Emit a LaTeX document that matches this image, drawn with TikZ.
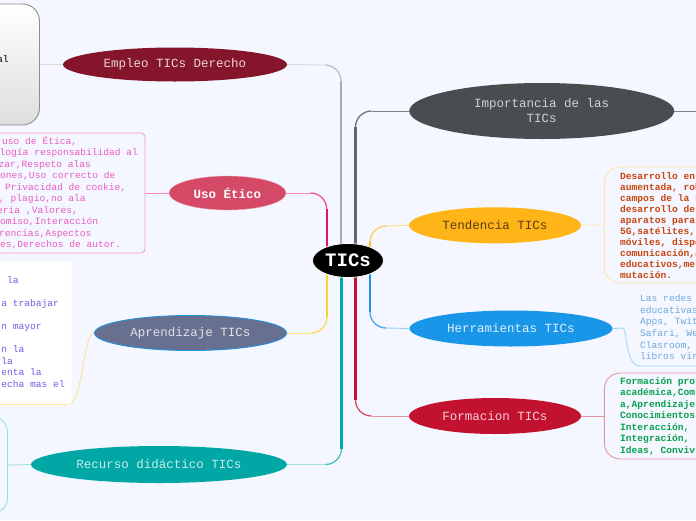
\documentclass[tikz,border=0pt]{standalone}
\usepackage{fontspec}
\setmainfont{Liberation Mono}
\usetikzlibrary{shapes.geometric,backgrounds}
\definecolor{bgc}{HTML}{F4F7FF}
\definecolor{cEmp}{HTML}{85152A}
\definecolor{cUso}{HTML}{D44A66}
\definecolor{cApr}{HTML}{67708F}
\definecolor{cRec}{HTML}{00A7A5}
\definecolor{cImp}{HTML}{4A4D4F}
\definecolor{cTen}{HTML}{FFB517}
\definecolor{cHer}{HTML}{1996E8}
\definecolor{cFor}{HTML}{C2122F}
\definecolor{tUso}{HTML}{EC5CC0}
\definecolor{tApr}{HTML}{6A60E0}
\definecolor{tTen}{HTML}{C8450F}
\definecolor{tHer}{HTML}{6FA8DC}
\definecolor{tFor}{HTML}{0AA050}
\definecolor{tTenL}{HTML}{5C3D12}
\definecolor{bUso}{HTML}{F59AC8}
\definecolor{bRec}{HTML}{9EDDE8}
\definecolor{bEmp}{HTML}{8D8D95}
\definecolor{gPale}{HTML}{D5DAD5}
\definecolor{gMid}{HTML}{BCC2BC}
\definecolor{gDark}{HTML}{A8AEA8}
\definecolor{pPale}{HTML}{F28CC0}
\definecolor{pMid}{HTML}{F0509A}
\definecolor{pDark}{HTML}{E8106A}
\definecolor{yPale}{HTML}{FFE48A}
\definecolor{yMid}{HTML}{FFDA55}
\definecolor{yDark}{HTML}{FFD22B}
\tikzset{
 topic/.style={ellipse,inner sep=0pt,font=\fontsize{12.5}{15}\selectfont,align=center},
 txt/.style={anchor=north west,inner sep=0pt,align=left,font=\fontsize{9.6}{11.5}\selectfont},
 stub/.style={line width=.9pt},
 trunk/.style={line width=2.4pt},
 bendline/.style={line width=1.3pt,rounded corners=16pt},
 panel/.style={rectangle,line width=.9pt,fill=bgc,inner sep=0pt},
}
% #1 name, #2 node, #3 pale, #4 mid, #5 dark, #6 corner x, #7 corner y, #8 sign x, #9 sign y; end y in \endy
\newcommand{\conn}[9]{%
 \coordinate (#1K) at (#6,#7);
 \coordinate (#1A) at ({#6-#8*16},#7);
 \coordinate (#1B) at (#6,{#7+#9*16});
 \coordinate (#1E) at (#6,\endy);
 \draw[stub,#3] (#2) -- (#1A);
 \draw[bendline,#4] (#1A) -- (#1K) -- (#1B);
 \draw[trunk,#5] (#1B) -- (#1E);
}
\begin{document}
\begin{tikzpicture}[x=1pt,y=-1pt]
\useasboundingbox (0,0) rectangle (696,520);
\clip (0,0) rectangle (696,520);
\begin{scope}[on background layer]
\clip (0,0) rectangle (696,520);
\fill[bgc] (0,0) rectangle (696,520);
\end{scope}
% central
\node[ellipse,fill=black,draw=white,line width=.8pt,text=white,minimum width=71pt,minimum height=34pt,inner sep=0pt,font=\fontsize{19}{22}\selectfont\bfseries] (tic) at (348,260.5) {TICs};
% main topics
\node[topic,fill=cEmp,text=white!82!cEmp,minimum width=224pt,minimum height=34pt] (emp) at (175,64.5) {Empleo TICs Derecho};
\node[topic,fill=cUso,draw=white!50!cUso,line width=.4pt,text=white,minimum width=117pt,minimum height=34pt,font=\fontsize{12.5}{15}\selectfont\bfseries] (uso) at (227.5,193) {Uso Ético};
\node[topic,fill=cApr,draw=cHer!85!cApr,line width=.9pt,text=white!80!cApr,minimum width=192pt,minimum height=35pt] (apr) at (190.5,333) {Aprendizaje TICs};
\node[topic,fill=cRec,text=white!78!cRec,minimum width=256pt,minimum height=37pt] (rec) at (159,464.5) {Recurso didáctico TICs};
\node[topic,fill=cImp,text=white!75!cImp,minimum width=265pt,minimum height=56pt] (imp) at (541.7,111) {Importancia de las\\TICs};
\node[topic,fill=cTen,text=tTenL,minimum width=172pt,minimum height=36pt] (ten) at (495,225.3) {Tendencia TICs};
\node[topic,fill=cHer,text=white!85!cHer,minimum width=203pt,minimum height=36pt] (her) at (511,328.5) {Herramientas TICs};
\node[topic,fill=cFor,text=white!80!cFor,minimum width=172pt,minimum height=36pt] (for) at (495,416) {Formacion TICs};
% detail panels
\node[panel,draw=bEmp,top color=white,bottom color=black!13,rounded corners=17pt,minimum width=110pt,minimum height=121pt] (pemp) at (-15.5,64.5) {};
\node[panel,draw=bUso,rounded corners=4pt,minimum width=175pt,minimum height=120pt] (puso) at (57.5,193) {};
\node[rectangle,fill=white,rounded corners=3pt,inner sep=0pt,minimum width=82pt,minimum height=143pt] (papr) at (30.7,332.5) {};
\node[panel,draw=bRec,rounded corners=15pt,minimum width=72pt,minimum height=96pt] (prec) at (-28.5,465) {};
\node[panel,draw=cTen!35!white,rounded corners=16pt,minimum width=156pt,minimum height=116pt] (pten) at (682.3,225) {};
\node[panel,draw=cFor!45!white,rounded corners=16pt,minimum width=156pt,minimum height=86pt] (pfor) at (682.3,416) {};
% texts
\node[txt,text=black] (temp) at (-3,55) {al};
\node[txt,text=tUso] (tuso) at (-3,136.2) {\hspace*{5pt}uso de Ética,\\\hspace*{2.5pt}logía responsabilidad al\\\hspace*{1.5pt}zar,Respeto alas\\\hspace*{3pt}ones,Uso correcto de\\\hspace*{8pt}Privacidad de cookie,\\\hspace*{2pt}, plagio,no ala\\ería ,Valores,\\\hspace*{3pt}omiso,Interacción\\\hspace*{2pt}rencias,Aspectos\\\hspace*{3pt}es,Derechos de autor.};
\node[txt,text=tApr] (tapr) at (1.2,276.5) {\hspace*{5.76pt}la\\~\\a trabajar\\~\\n mayor\\~\\n la\\la\\enta la\\echa mas el};
\node[txt,font=\fontsize{9.6}{11}\selectfont\bfseries,text=tTen] (tten) at (620,172.2) {Desarrollo en\\aumentada, rob\\campos de la s\\desarrollo de\\aparatos para\\5G,satélites,\\móviles, dispo\\comunicación,a\\educativos,mer\\mutación.};
\node[txt,font=\fontsize{9.6}{11.6}\selectfont,text=tHer] (ther) at (640,294.5) {Las redes\\educativas\\Apps, Twit\\Safari, We\\Clasroom,\\libros vir};
\node[txt,font=\fontsize{9.6}{11.5}\selectfont\bfseries,text=tFor] (tfor) at (620,377.2) {Formación pro\\académica,Com\\a,Aprendizaje\\Conocimientos\\Interacción,\\Integración,\\Ideas, Conviv};
% connectors
\begin{scope}[on background layer]
\clip (0,0) rectangle (696,520);
\def\endy{250}
\conn{cemp}{emp.east}{gPale}{gMid}{gDark}{341}{65}{1}{1}
\conn{cuso}{uso.east}{pPale}{pMid}{pDark}{326.7}{193}{1}{1}
\conn{cimp}{imp.west}{gray}{gray!90!black}{black!60}{355.5}{111}{-1}{1}
\conn{cten}{ten.west}{cTen!50!white}{cTen!70!white}{cTen!90!yellow}{370}{226}{-1}{1}
\def\endy{270}
\conn{capr}{apr.east}{yPale}{yMid}{yDark}{327}{333}{1}{-1}
\conn{crec}{rec.east}{cRec!35!white}{cRec!70!white}{cRec}{341.5}{464.5}{1}{-1}
\conn{cher}{her.west}{cHer!45!white}{cHer!80!white}{cHer}{370}{328}{-1}{-1}
\conn{cfor}{for.west}{cFor!45!white}{cFor!75!white}{cFor}{355.5}{416}{-1}{-1}
\coordinate (rimp) at (697,111);
\draw[stub,gray] (imp.east) -- (rimp);
\draw[stub,gPale] (emp.west) -- (pemp.east);
\draw[stub,pPale] (uso.west) -- (puso.east);
\draw[stub,cRec!35!white] (rec.west) -- (prec.east);
\draw[stub,cTen!30!white] (ten.east) -- (pten.west);
\draw[stub,cFor!45!white] (for.east) -- (pfor.west);
\coordinate (aprEnd) at (-5,404.3);
\draw[stub,yPale] (apr.west) .. controls (83,333) and (83,404.3) .. (68,404.3) -- (aprEnd);
\coordinate (herEnd) at (700,366);
\draw[stub,cHer!40!white] (her.east) -- (623,328) .. controls (627,328) and (625,366) .. (640,366) -- (herEnd);
\end{scope}
\end{tikzpicture}
\end{document}
